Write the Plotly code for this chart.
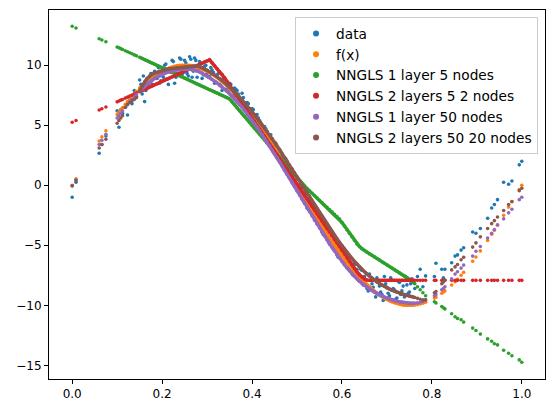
import plotly.graph_objects as go

# x positions of the observations (shared by the model predictions)
X = [0.0, 0.0085, 0.060, 0.066, 0.075, 0.100, 0.104, 0.108, 0.112, 0.118, 0.123, 0.128, 0.133, 0.138, 0.143,
     0.1500, 0.1556, 0.1611, 0.1667, 0.1722, 0.1778, 0.1833, 0.1889, 0.1944, 0.2000,
     0.2056, 0.2111, 0.2167, 0.2222, 0.2278, 0.2333, 0.2389, 0.2444, 0.2500, 0.2556,
     0.2611, 0.2667, 0.2722, 0.2778, 0.2833, 0.2889, 0.2944, 0.3000, 0.3056, 0.3111,
     0.3167, 0.3222, 0.3278, 0.3333, 0.3389, 0.3444, 0.3500, 0.3556, 0.3611, 0.3667,
     0.3722, 0.3778, 0.3833, 0.3889, 0.3944, 0.4000, 0.4056, 0.4111, 0.4167, 0.4222,
     0.4278, 0.4333, 0.4389, 0.4444, 0.4500, 0.4556, 0.4611, 0.4667, 0.4722, 0.4778,
     0.4833, 0.4889, 0.4944, 0.5000, 0.5056, 0.5111, 0.5167, 0.5222, 0.5278, 0.5333,
     0.5389, 0.5444, 0.5500, 0.5556, 0.5611, 0.5667, 0.5722, 0.5778, 0.5833, 0.5889,
     0.5944, 0.6000, 0.6056, 0.6111, 0.6167, 0.6222, 0.6278, 0.6333, 0.6389, 0.6444,
     0.6500, 0.6556, 0.6611, 0.6667, 0.6722, 0.6778, 0.6833, 0.6889, 0.6944, 0.7000,
     0.7056, 0.7111, 0.7167, 0.7222, 0.7278, 0.7333, 0.7389, 0.7444, 0.7500, 0.7556,
     0.762, 0.768, 0.774, 0.780, 0.786, 0.8056, 0.809, 0.822, 0.8256, 0.829, 0.844, 0.8516, 0.857,
     0.865, 0.8707, 0.8907, 0.898, 0.9078, 0.924, 0.933, 0.939, 0.946, 0.9596, 0.9707, 0.978, 0.9944, 1.0]

# extra observation positions (data only) inside the dense part
X2 = [0.1528, 0.1583, 0.1639, 0.1694, 0.1750, 0.1806, 0.1861, 0.1917, 0.1972, 0.2028,
      0.2083, 0.2139, 0.2194, 0.2250, 0.2306, 0.2361, 0.2417, 0.2472, 0.2528, 0.2583,
      0.2639, 0.2694, 0.2750, 0.2806, 0.2861, 0.2917, 0.2972, 0.3028, 0.3083, 0.3139,
      0.3194, 0.3250, 0.3306, 0.3361, 0.3417, 0.3472, 0.3528, 0.3583, 0.3639, 0.3694,
      0.3750, 0.3806, 0.3861, 0.3917, 0.3972, 0.4028, 0.4083, 0.4139, 0.4194, 0.4250,
      0.4306, 0.4361, 0.4417, 0.4472, 0.4528, 0.4583, 0.4639, 0.4694, 0.4750, 0.4806,
      0.4861, 0.4917, 0.4972, 0.5028, 0.5083, 0.5139, 0.5194, 0.5250, 0.5306, 0.5361,
      0.5417, 0.5472, 0.5528, 0.5583, 0.5639, 0.5694, 0.5750, 0.5806, 0.5861, 0.5917,
      0.5972, 0.6028, 0.6083, 0.6139, 0.6194, 0.6250, 0.6306, 0.6361, 0.6417, 0.6472,
      0.6528, 0.6583, 0.6639, 0.6694, 0.6750, 0.6806, 0.6861, 0.6917, 0.6972, 0.7028,
      0.7083, 0.7139, 0.7194, 0.7250, 0.7306, 0.7361, 0.7417, 0.7472, 0.7528]

data_y = [-1.0, 0.25, 2.67, 3.4, 4.1, 6.2, 4.83, 6.3, 6.0, 6.5, 5.85, 7.2, 6.8, 7.9, 7.4,
          8.77, 7.6, 6.97, 8.5, 9.0, 8.4, 9.5, 8.9, 8.5, 9.2,
          10.0, 8.85, 9.6, 10.4, 8.5, 9.3, 10.6, 9.2, 10.4, 9.3,
          10.7, 9.0, 10.6, 9.0, 10.3, 8.9, 9.9, 9.3, 9.05, 9.6,
          8.5, 9.2, 8.4, 7.9, 8.9, 8.0, 8.5, 7.5, 8.1, 7.9,
          7.2, 7.67, 6.9, 6.9, 6.0, 6.4, 5.1, 5.9, 5.4, 4.2,
          4.9, 4.5, 3.5, 3.9, 3.3, 2.3, 3.0, 2.4, 1.3, 1.9,
          1.5, 0.3, 0.9, 0.5, -0.7, -0.2, -0.6, -1.9, -1.1, -1.6,
          -2.9, -2.2, -2.6, -3.9, -3.1, -3.6, -4.9, -4.0, -4.6, -5.8,
          -5.0, -5.4, -6.6, -5.7, -6.3, -7.3, -6.5, -7.0, -8.0, -7.1,
          -7.6, -8.6, -7.4, -8.2, -8.9, -7.7, -8.4, -9.1, -7.6, -8.5,
          -9.2, -7.9, -8.7, -9.4, -8.1, -8.8, -9.3, -8.3, -8.9, -7.8,
          -8.6, -7.6, -7.0, -8.45, -7.55, -7.6, -6.5, -7.0, -7.7, -7.0, -6.45, -5.9, -5.8,
          -5.4, -5.2, -3.9, -4.0, -3.6, -2.75, -1.9, -1.6, -1.2, 0.25, 0.08, 0.36, 1.7, 2.0]

data2_y = [8.4, 9.1, 7.9, 8.3, 9.3, 8.35, 8.9, 9.8, 8.7, 9.0,
           10.1, 8.4, 9.4, 10.3, 9.0, 9.6, 10.5, 9.4, 10.2, 9.1,
           10.5, 9.5, 10.4, 9.6, 10.1, 9.2, 10.0, 9.0, 9.8, 9.4,
           8.6, 9.3, 8.3, 8.9, 8.6, 7.8, 8.4, 7.4, 8.0, 7.6,
           6.8, 7.3, 6.2, 6.8, 5.7, 6.3, 5.0, 5.6, 5.2, 4.1,
           4.7, 3.6, 4.2, 2.8, 3.5, 2.2, 2.8, 1.6, 2.2, 1.0,
           1.4, 0.1, 0.8, -0.4, 0.1, -1.3, -0.7, -2.0, -1.3, -2.6,
           -1.9, -3.3, -2.7, -4.1, -3.2, -4.6, -3.9, -5.3, -4.5, -6.0,
           -5.1, -6.4, -5.6, -6.9, -6.0, -7.5, -6.6, -7.7, -7.0, -8.3,
           -7.3, -8.8, -7.9, -8.5, -9.3, -8.0, -8.9, -9.6, -8.2, -9.0,
           -7.7, -8.6, -9.5, -8.0, -9.1, -8.4, -7.6, -9.0, -8.2]

fx_y = [0.0, 0.53, 3.68, 4.03, 4.54, 5.88, 6.08, 6.28, 6.47, 6.75, 6.98, 7.20, 7.42, 7.62, 7.83,
        8.09, 8.29, 8.48, 8.66, 8.83, 8.99, 9.14, 9.27, 9.40, 9.51,
        9.61, 9.70, 9.78, 9.85, 9.90, 9.95, 9.98, 9.99, 10.0, 9.99,
        9.98, 9.95, 9.90, 9.85, 9.78, 9.70, 9.61, 9.51, 9.40, 9.27,
        9.14, 8.99, 8.83, 8.66, 8.48, 8.29, 8.09, 7.88, 7.66, 7.43,
        7.19, 6.95, 6.69, 6.43, 6.16, 5.88, 5.59, 5.30, 5.00, 4.69,
        4.38, 4.07, 3.75, 3.42, 3.09, 2.76, 2.42, 2.08, 1.74, 1.39,
        1.05, 0.70, 0.35, 0.0, -0.35, -0.70, -1.05, -1.39, -1.74, -2.08,
        -2.42, -2.76, -3.09, -3.42, -3.75, -4.07, -4.38, -4.69, -5.00, -5.30,
        -5.59, -5.88, -6.16, -6.43, -6.69, -6.95, -7.19, -7.43, -7.66, -7.88,
        -8.09, -8.29, -8.48, -8.66, -8.83, -8.99, -9.14, -9.27, -9.40, -9.51,
        -9.61, -9.70, -9.78, -9.85, -9.90, -9.95, -9.98, -9.99, -10.0, -9.99,
        -9.97, -9.94, -9.89, -9.82, -9.74, -9.40, -9.32, -9.00, -8.89, -8.80, -8.31, -8.03, -7.83,
        -7.50, -7.26, -6.33, -5.98, -5.47, -4.60, -4.08, -3.75, -3.33, -2.50, -1.82, -1.37, -0.35, 0.0]

nn1_5_y = [13.25, 13.1, 12.2, 12.1, 11.95, 11.52, 11.45, 11.38, 11.31, 11.21, 11.12, 11.04, 10.95, 10.86, 10.78,
           10.66, 10.56, 10.46, 10.37, 10.27, 10.17, 10.08, 9.98, 9.89, 9.79,
           9.69, 9.60, 9.50, 9.41, 9.31, 9.21, 9.12, 9.02, 8.93, 8.83,
           8.73, 8.64, 8.54, 8.44, 8.35, 8.25, 8.16, 8.06, 7.96, 7.87,
           7.77, 7.68, 7.58, 7.48, 7.39, 7.29, 7.19, 6.95, 6.70, 6.46,
           6.21, 5.97, 5.73, 5.48, 5.24, 4.99, 4.75, 4.51, 4.26, 4.02,
           3.77, 3.53, 3.29, 3.04, 2.80, 2.55, 2.31, 2.07, 1.82, 1.58,
           1.33, 1.09, 0.85, 0.60, 0.36, 0.11, -0.08, -0.28, -0.47, -0.67,
           -0.86, -1.05, -1.25, -1.44, -1.64, -1.83, -2.03, -2.22, -2.42, -2.61,
           -2.80, -3.10, -3.40, -3.70, -4.00, -4.30, -4.60, -4.90, -5.10, -5.28,
           -5.44, -5.58, -5.71, -5.84, -5.97, -6.10, -6.23, -6.37, -6.50, -6.63,
           -6.77, -6.90, -7.03, -7.17, -7.30, -7.43, -7.57, -7.70, -7.83, -7.97,
           -8.2, -8.45, -8.7, -8.95, -9.2, -9.7, -9.8, -10.1, -10.2, -10.3, -10.7, -10.95, -11.1,
           -11.2, -11.4, -11.9, -12.1, -12.4, -12.8, -13.0, -13.2, -13.3, -13.75, -14.0, -14.2, -14.55, -14.75]

nn2_52_y = [5.25, 5.4, 6.27, 6.37, 6.52, 6.95, 7.02, 7.09, 7.15, 7.26, 7.34, 7.43, 7.51, 7.6, 7.68,
            7.80, 7.89, 7.99, 8.08, 8.18, 8.27, 8.37, 8.46, 8.56, 8.65,
            8.74, 8.84, 8.93, 9.03, 9.12, 9.22, 9.31, 9.41, 9.50, 9.59,
            9.69, 9.78, 9.88, 9.97, 10.07, 10.16, 10.26, 10.35, 10.45, 10.2,
            9.95, 9.7, 9.45, 9.25, 8.95, 8.64, 8.34, 8.03, 7.73, 7.42,
            7.11, 6.81, 6.50, 6.20, 5.89, 5.58, 5.28, 4.97, 4.67, 4.36,
            4.06, 3.75, 3.44, 3.14, 2.83, 2.53, 2.22, 1.92, 1.61, 1.30,
            1.00, 0.69, 0.39, 0.08, -0.22, -0.53, -0.83, -1.14, -1.45, -1.75,
            -2.06, -2.36, -2.67, -2.97, -3.28, -3.59, -3.89, -4.20, -4.50, -4.81,
            -5.11, -5.42, -5.73, -6.03, -6.34, -6.64, -6.95, -7.2, -7.45, -7.65,
            -7.8, -7.9, -7.92, -7.92, -7.92, -7.92, -7.92, -7.92, -7.92, -7.92,
            -7.92, -7.92, -7.92, -7.92, -7.92, -7.92, -7.92, -7.92, -7.92, -7.92,
            -7.92, -7.92, -7.92, -7.92, -7.92, -7.92, -7.92, -7.92, -7.92, -7.92, -7.92, -7.92, -7.92,
            -7.92, -7.92, -7.92, -7.92, -7.92, -7.92, -7.92, -7.92, -7.92, -7.92, -7.92, -7.92, -7.92, -7.92]

nn1_50_y = [-0.05, 0.45, 3.4, 3.75, 4.25, 5.6, 5.8, 6.0, 6.2, 6.5, 6.7, 6.95, 7.15, 7.35, 7.55,
            7.85, 8.05, 8.25, 8.45, 8.6, 8.75, 8.9, 9.02, 9.13, 9.23,
            9.32, 9.40, 9.47, 9.53, 9.58, 9.62, 9.65, 9.67, 9.68, 9.68,
            9.66, 9.63, 9.58, 9.52, 9.44, 9.34, 9.22, 9.1, 8.97, 8.82,
            8.67, 8.52, 8.36, 8.19, 8.01, 7.82, 7.62, 7.41, 7.19, 6.96,
            6.72, 6.48, 6.22, 5.96, 5.69, 5.41, 5.12, 4.83, 4.53, 4.22,
            3.91, 3.6, 3.28, 2.95, 2.62, 2.29, 1.95, 1.61, 1.27, 0.92,
            0.58, 0.23, -0.12, -0.47, -0.82, -1.17, -1.52, -1.86, -2.21, -2.55,
            -2.89, -3.23, -3.56, -3.89, -4.22, -4.54, -4.85, -5.16, -5.47, -5.77,
            -6.06, -6.35, -6.62, -6.88, -7.13, -7.37, -7.59, -7.8, -8.0, -8.18,
            -8.35, -8.5, -8.64, -8.77, -8.9, -9.02, -9.13, -9.23, -9.32, -9.4,
            -9.48, -9.55, -9.61, -9.66, -9.71, -9.75, -9.78, -9.8, -9.82, -9.83,
            -9.82, -9.8, -9.75, -9.68, -9.55, -9.2, -9.1, -8.7, -8.6, -8.45, -7.8, -7.4, -7.2,
            -6.9, -6.65, -5.9, -5.5, -5.1, -4.4, -4.0, -3.7, -3.3, -2.8, -2.3, -2.0, -1.2, -1.0]

nn2_5020_y = [-0.05, 0.4, 3.1, 3.4, 3.83, 5.17, 5.4, 5.6, 5.8, 6.5, 6.75, 6.9, 7.05, 7.15, 7.3,
              7.85, 8.3, 8.6, 8.9, 9.1, 9.25, 9.35, 9.42, 9.5, 9.55,
              9.6, 9.65, 9.7, 9.72, 9.75, 9.78, 9.8, 9.82, 9.85, 9.87,
              9.9, 9.92, 9.93, 9.93, 9.88, 9.8, 9.7, 9.58, 9.45, 9.32,
              9.18, 9.04, 8.89, 8.73, 8.56, 8.38, 8.19, 7.99, 7.78, 7.56,
              7.34, 7.11, 6.87, 6.63, 6.38, 6.12, 5.86, 5.59, 5.32, 5.04,
              4.76, 4.47, 4.18, 3.88, 3.58, 3.27, 2.96, 2.65, 2.33, 2.01,
              1.69, 1.37, 1.04, 0.71, 0.38, 0.05, -0.28, -0.62, -0.95, -1.28,
              -1.61, -1.94, -2.27, -2.6, -2.92, -3.24, -3.55, -3.86, -4.16, -4.46,
              -4.75, -5.04, -5.32, -5.59, -5.85, -6.1, -6.34, -6.57, -6.79, -7.0,
              -7.2, -7.39, -7.57, -7.74, -7.9, -8.05, -8.19, -8.32, -8.44, -8.55,
              -8.65, -8.74, -8.83, -8.91, -8.98, -9.05, -9.11, -9.17, -9.22, -9.27,
              -9.35, -9.42, -9.5, -9.55, -9.55, -8.95, -8.85, -8.2, -8.05, -7.9, -7.05, -6.8, -6.6,
              -6.2, -6.0, -5.15, -4.8, -4.3, -3.6, -3.2, -2.95, -2.65, -2.1, -1.6, -1.35, -0.45, -0.25]

NAMES = ["data", "f(x)", "NNGLS 1 layer 5 nodes", "NNGLS 2 layers 5 2 nodes",
         "NNGLS 1 layer 50 nodes", "NNGLS 2 layers 50 20 nodes"]
MODELS = [fx_y, nn1_5_y, nn2_52_y, nn1_50_y, nn2_5020_y]
COLORS = ["#1f77b4", "#ff7f0e", "#2ca02c", "#d62728", "#9467bd", "#8c564b"]

MS = 3.6
fig = go.Figure()
# observations
fig.add_trace(go.Scatter(x=X + X2, y=data_y + data2_y, mode="markers", showlegend=False,
                         marker=dict(size=MS, color=COLORS[0], line=dict(width=0))))
# model predictions: dots at every x, densely sampled part drawn as a continuous band
LO, HI = 15, 126
for ys, col in zip(MODELS, COLORS[1:]):
    fig.add_trace(go.Scatter(x=X, y=ys, mode="markers", showlegend=False,
                             marker=dict(size=MS, color=col, line=dict(width=0))))
    fig.add_trace(go.Scatter(x=X[LO:HI], y=ys[LO:HI], mode="lines", showlegend=False,
                             line=dict(color=col, width=3.4), hoverinfo="skip"))
# legend entries
for name, col in zip(NAMES, COLORS):
    fig.add_trace(go.Scatter(x=[None], y=[None], mode="markers", name=name,
                             marker=dict(size=6, color=col)))

FONT = "DejaVu Sans"
axis_common = dict(showline=True, linecolor="black", linewidth=1, mirror=True,
                   ticks="outside", ticklen=4, tickwidth=1, tickcolor="black",
                   showgrid=False, zeroline=False,
                   tickfont=dict(family=FONT, size=12, color="black"))
# the page body adds an 8px margin, so the figure is sized to fit the 554x413 window
fig.update_layout(
    width=538, height=397,
    margin=dict(l=41, r=1, t=2, b=26),
    paper_bgcolor="white", plot_bgcolor="white",
    font=dict(family=FONT, size=12, color="black"),
    xaxis=dict(range=[-0.0516, 1.0516], tickvals=[0, 0.2, 0.4, 0.6, 0.8, 1.0],
               ticktext=["0.0", "0.2", "0.4", "0.6", "0.8", "1.0"], **axis_common),
    yaxis=dict(range=[-16.14, 14.6], tickvals=[-15, -10, -5, 0, 5, 10],
               ticktext=["\u221215", "\u221210", "\u22125", "0", "5", "10"], **axis_common),
    legend=dict(x=0.986, y=0.981, xanchor="right", yanchor="top",
                bgcolor="rgba(255,255,255,0.8)", bordercolor="#cccccc", borderwidth=1,
                font=dict(family=FONT, size=13.7, color="black")),
)
fig.write_html("out.html")
